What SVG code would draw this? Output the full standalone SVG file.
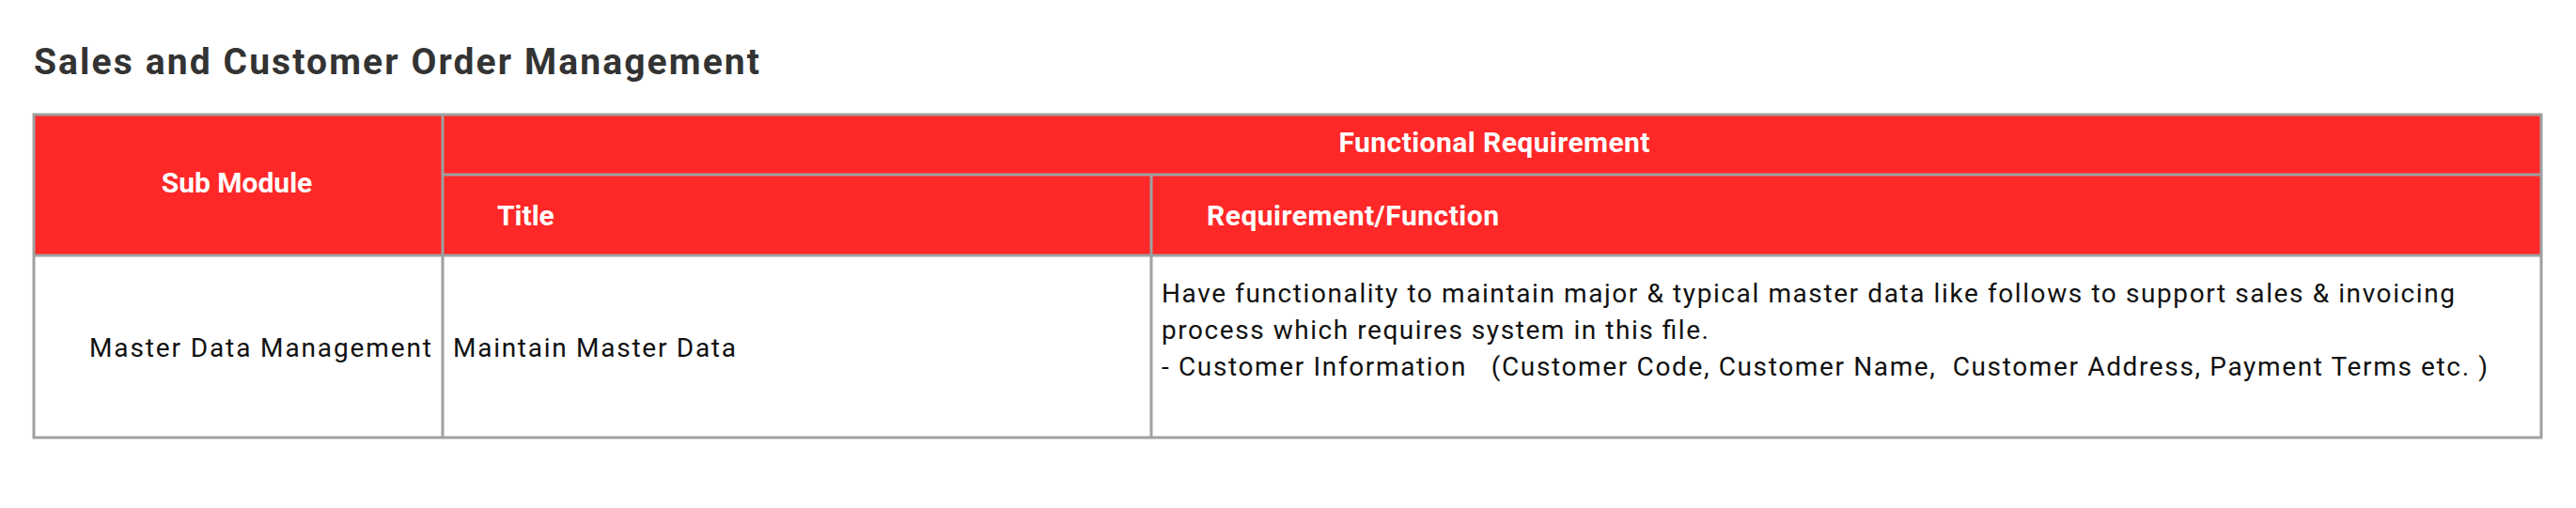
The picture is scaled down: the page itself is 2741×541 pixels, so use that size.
<svg xmlns="http://www.w3.org/2000/svg" width="2741" height="541" viewBox="0 0 2741 541">
<style>
.h{font-family:Roboto,"Liberation Sans",sans-serif;font-weight:bold;fill:#fff;font-size:30px}
.b{font-family:Roboto,"Liberation Sans",sans-serif;fill:#111;font-size:28px}
.g{stroke:#a0a0a0;stroke-width:3;fill:none}
</style>
<rect width="2741" height="541" fill="#fff"/>
<text x="36" y="79" font-family="Roboto,'Liberation Sans',sans-serif" font-weight="bold" font-size="39" fill="#333" textLength="772">Sales and Customer Order Management</text>
<g id="header">
<rect x="36" y="122" width="2668" height="150" fill="#ff2828"/>
</g>
<g id="body">
<rect x="36" y="272" width="2668" height="194" fill="#fff"/>
</g>
<g id="grid">
<rect class="g" x="36" y="122" width="2668" height="344"/>
<line class="g" x1="36" y1="272" x2="2704" y2="272"/>
<line class="g" x1="471" y1="186" x2="2704" y2="186"/>
<line class="g" x1="471" y1="122" x2="471" y2="466"/>
<line class="g" x1="1225" y1="186" x2="1225" y2="466"/>
</g>
<g id="labels">
<text class="h" x="252" y="205" text-anchor="middle">Sub Module</text>
<text class="h" x="1590" y="162" text-anchor="middle" textLength="331">Functional Requirement</text>
<text class="h" x="529" y="240">Title</text>
<text class="h" x="1284" y="240" textLength="311">Requirement/Function</text>
<text class="b" x="95" y="380" textLength="364">Master Data Management</text>
<text class="b" x="482" y="380" textLength="301">Maintain Master Data</text>
<text class="b" x="1236" y="322" textLength="1376">Have functionality to maintain major &amp; typical master data like follows to support sales &amp; invoicing</text>
<text class="b" x="1236" y="361" textLength="582">process which requires system in this file.</text>
<text class="b" x="1236" y="400" textLength="1411" xml:space="preserve">- Customer Information   (Customer Code, Customer Name,  Customer Address, Payment Terms etc. )</text>
</g>
</svg>
